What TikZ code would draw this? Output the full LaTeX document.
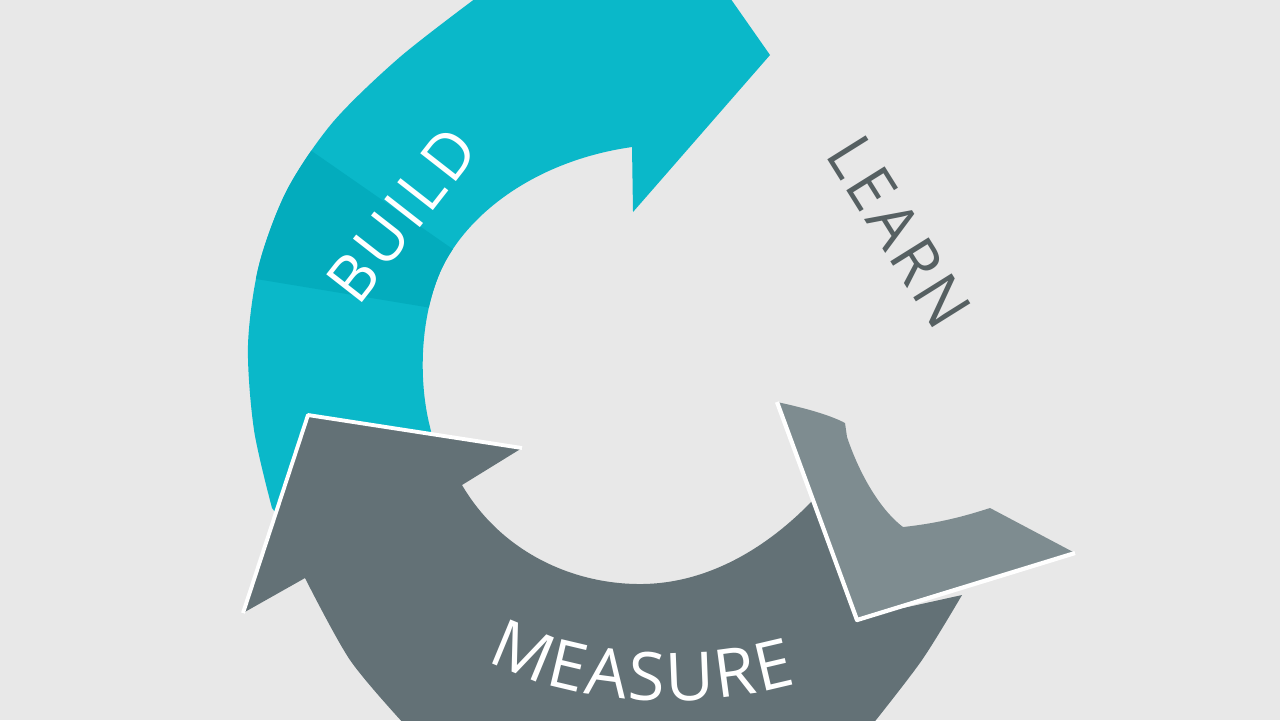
\documentclass[tikz,border=0pt]{standalone}
\usepackage{fontspec}
\setmainfont{Open Sans}
\newfontfamily\rotulo[LetterSpace=6]{Open Sans}
\usetikzlibrary{decorations.text}
\definecolor{fundo}{RGB}{232,232,232}
\definecolor{ciano}{RGB}{10,184,201}
\definecolor{cianoesc}{RGB}{3,172,189}
\definecolor{cinzaesc}{RGB}{99,113,118}
\definecolor{cinzaclaro}{RGB}{126,140,144}
\definecolor{texto}{RGB}{86,96,98}
\newcommand{\rotulofonte}{\rotulo\fontsize{18}{20}\selectfont}
\newcommand{\setaciano}{(480,-5) -- (728,-5) -- (770,55) -- (633,212) -- (632,147)
    .. controls (540,160) and (470,210) .. (442,268)
    .. controls (420,315) and (418,380) .. (430,427)
    -- (440,470) -- (300,545)
    -- plot[smooth] coordinates {(272,508) (254,430) (248,345) (259,265) (287,190) (333,122) (400,57) (480,-5)} -- cycle}

\begin{document}
\begin{tikzpicture}[x=0.01cm,y=-0.01cm]
    % fundo
    \fill[fundo] (0,0) rectangle (1280,720);
    \useasboundingbox (0,0) rectangle (1280,720);
    % seta ciano com faixa mais escura
    \fill[ciano] \setaciano;
    \begin{scope}
        \clip \setaciano;
        \fill[cianoesc] (280,129) -- (480,268) -- (450,311) -- (220,273) -- cycle;
    \end{scope}
    % seta cinza escura
    \fill[cinzaesc] (308,415) -- (522,448) -- (462,485)
        .. controls (500,550) and (570,584) .. (640,584)
        .. controls (710,584) and (770,545) .. (813,500)
        -- (858,618) -- (962,595)
        -- plot[smooth] coordinates {(962,595) (922,660) (872,725)}
        -- (405,725)
        -- plot[smooth] coordinates {(405,725) (350,660) (305,578)}
        -- (243,613) -- cycle;
    \draw[white, line width=1.1pt, line join=round] (243,613) -- (308,415) -- (522,448);
    % peca cinza clara
    \fill[cinzaclaro] (777,402) .. controls (805,408) and (830,415) .. (845,423) -- (847,437)
        .. controls (858,470) and (878,508) .. (903,527)
        .. controls (940,523) and (965,516) .. (990,508)
        -- (1075,553) -- (857,620) -- cycle;
    \draw[white, line width=1.2pt, line join=round] (777,402) -- (857,620) -- (1075,553);
    % textos
    \node[white, rotate=52, font=\rotulofonte] (build) at (402,215) {BUILD};
    \node[texto, rotate=-58, font=\rotulofonte] (learn) at (899,232) {LEARN};
    \path[decorate, decoration={text along path, text={|\rotulo\fontsize{19}{21}\selectfont|MEASURE},
        text align=fit to path, text color=white}]
        (487,660) .. controls (565,705) and (700,712) .. (797,684);
\end{tikzpicture}
\end{document}
